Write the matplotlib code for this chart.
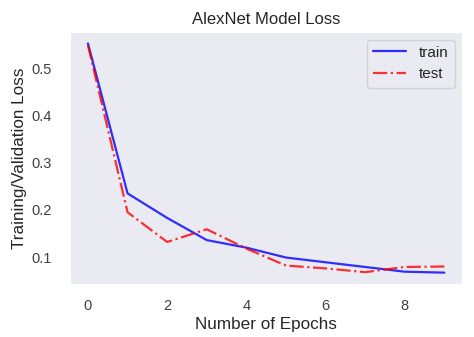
import numpy as np
import matplotlib
matplotlib.use("Agg")
import matplotlib.pyplot as plt
import seaborn as sns

# loss history per epoch
epochs = np.arange(10)
train_loss = [0.553, 0.235, 0.183, 0.136, 0.120, 0.099, 0.089, 0.079, 0.069, 0.067]
test_loss = [0.549, 0.195, 0.132, 0.159, 0.118, 0.082, 0.076, 0.068, 0.079, 0.080]

sns.set_style("dark")
plt.rcParams['font.family'] = ['Liberation Sans', 'DejaVu Sans']

fig = plt.figure(figsize=(4.74, 3.37), dpi=100)
ax = fig.add_axes([0.148, 0.157, 0.827, 0.748])

ax.plot(epochs, train_loss, color='blue', alpha=0.8, linewidth=1.6, label='train')
ax.plot(epochs, test_loss, color='red', alpha=0.8, linewidth=1.6, linestyle='-.', label='test')

ax.set_title('AlexNet Model Loss', fontsize=12, color='#262626')
ax.set_xlabel('Number of Epochs', fontsize=12.3, color='#262626', labelpad=3)
ax.set_ylabel('Training/Validation Loss', fontsize=12.3, color='#262626', labelpad=3)
ax.tick_params(labelsize=10.5, colors='#404040')
ax.tick_params(axis='y', pad=10)
ax.tick_params(axis='x', pad=7)
ax.set_xticks([0, 2, 4, 6, 8])
ax.set_yticks([0.1, 0.2, 0.3, 0.4, 0.5])

ax.legend(loc='upper right', fontsize=11, handlelength=2.2)

fig.savefig('out.png', dpi=100)
